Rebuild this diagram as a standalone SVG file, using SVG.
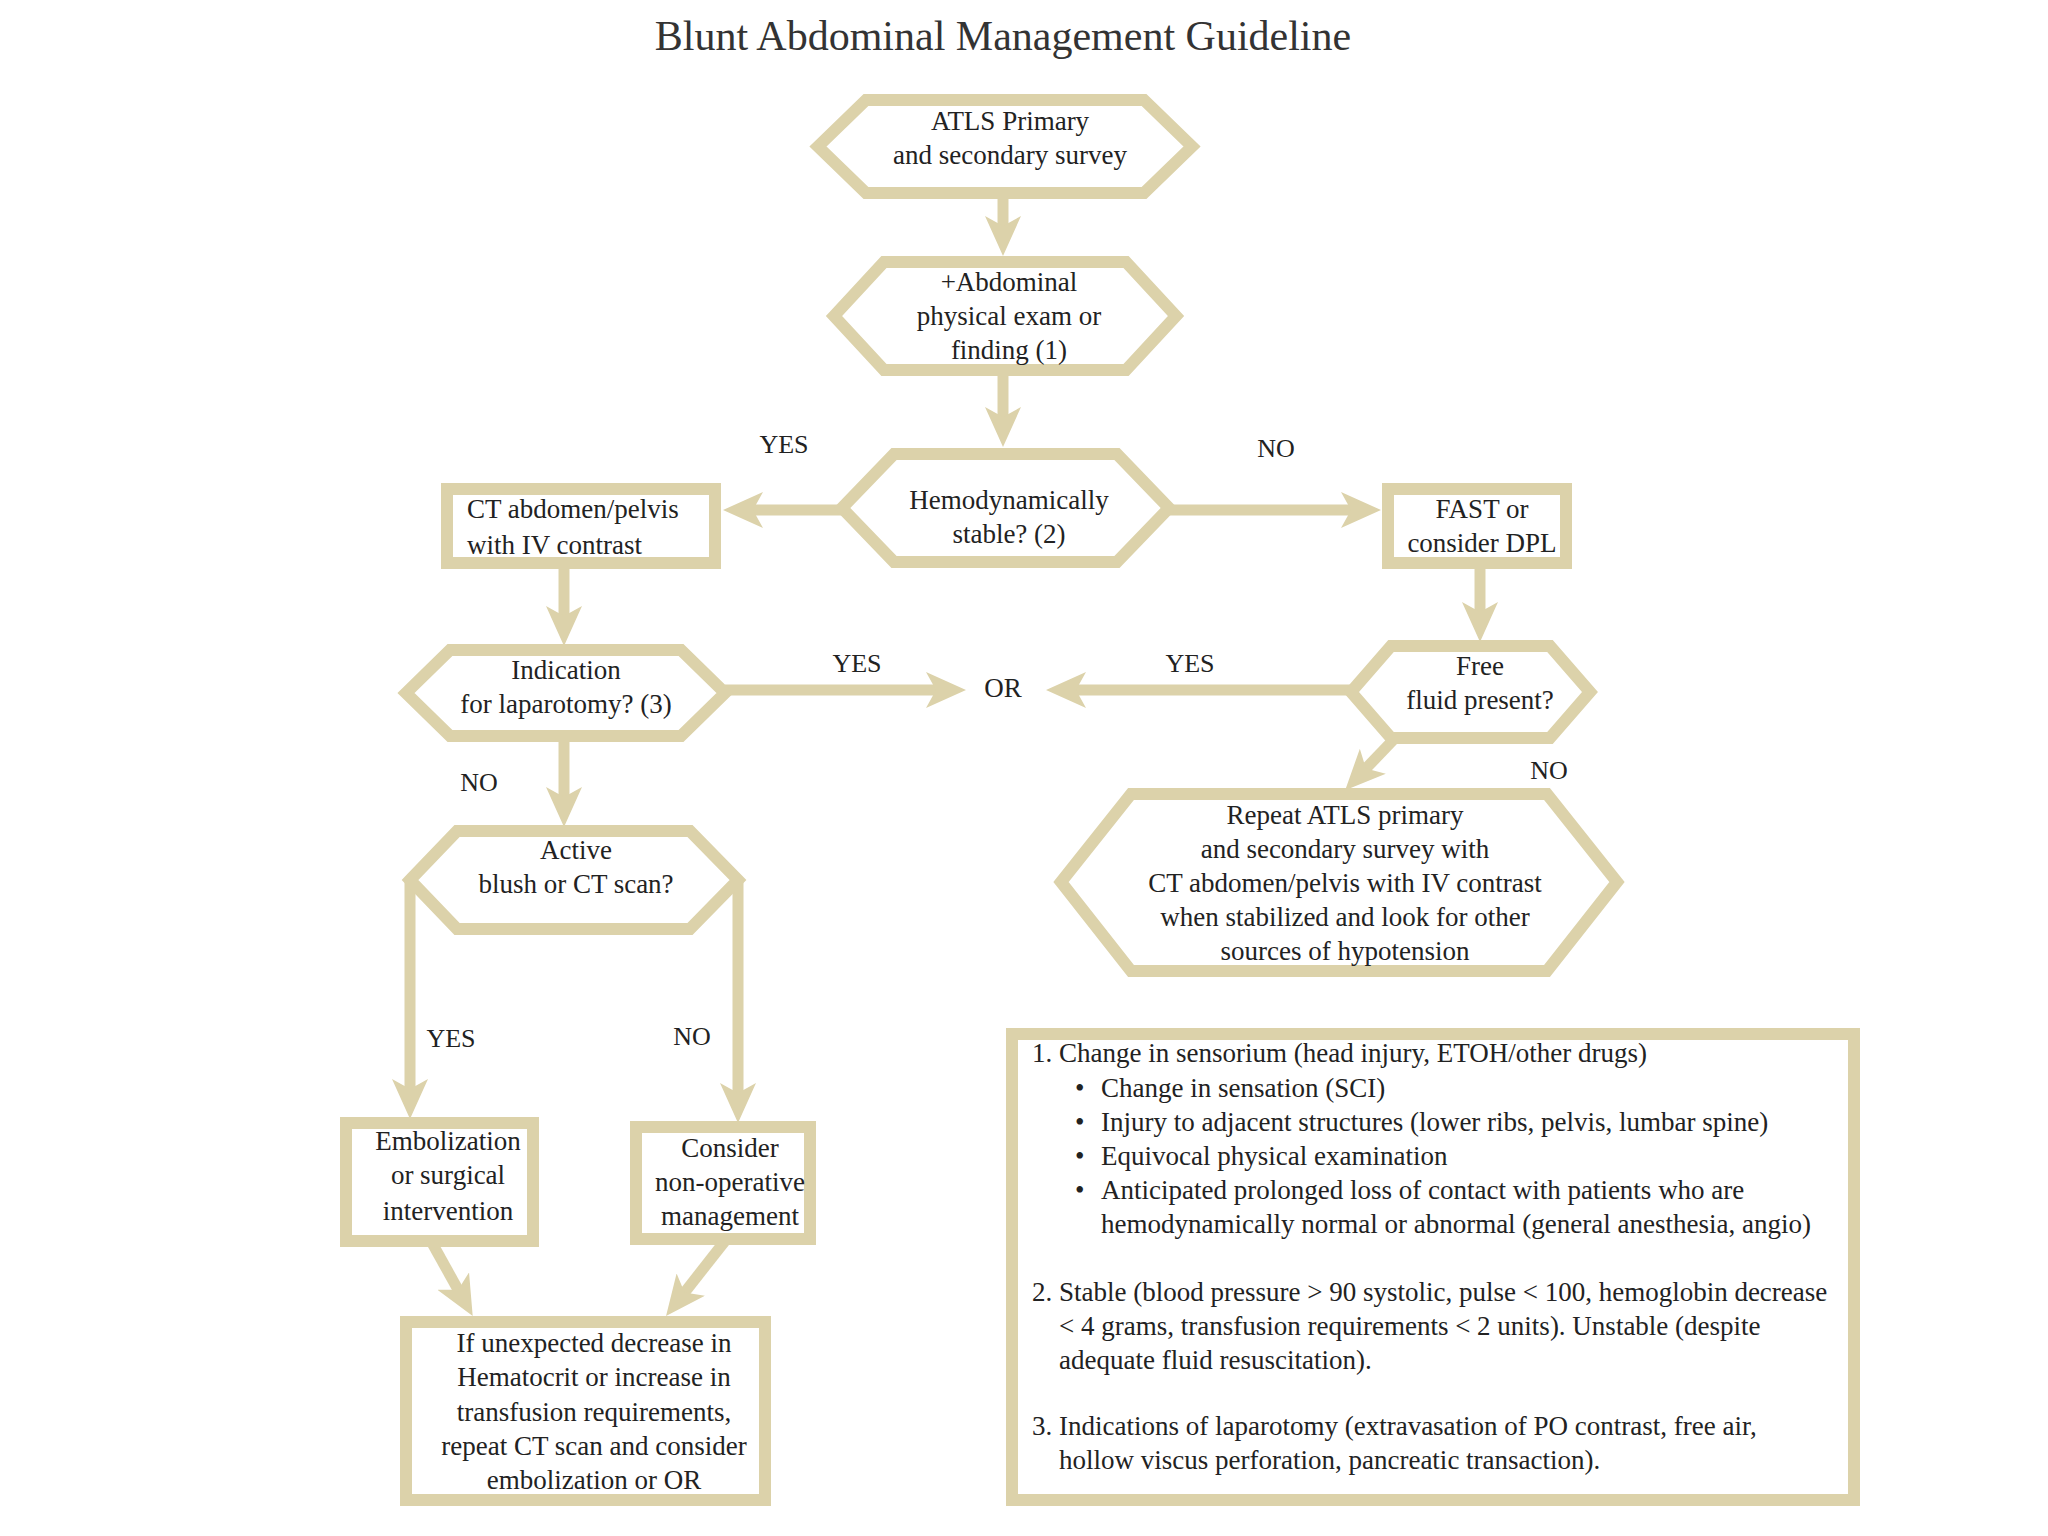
<svg xmlns="http://www.w3.org/2000/svg" width="2048" height="1536" viewBox="0 0 2048 1536">
<style>
.shape{fill:#ffffff;stroke:#DCD2AA;stroke-width:12;stroke-linejoin:miter}
.conn{fill:none;stroke:#DCD2AA;stroke-width:11}
.t{font-family:"Liberation Serif",serif;font-size:27px;fill:#222;text-anchor:middle}
.l{font-family:"Liberation Serif",serif;font-size:27px;fill:#222}
.lab{font-family:"Liberation Serif",serif;font-size:26px;fill:#222;text-anchor:middle}
.n{font-family:"Liberation Serif",serif;font-size:27px;fill:#222}
.title{font-family:"Liberation Serif",serif;font-size:42px;fill:#333;text-anchor:middle}
</style>
<defs>
<marker id="arr" viewBox="0 0 40 36" refX="20" refY="18" markerWidth="40" markerHeight="36" markerUnits="userSpaceOnUse" orient="auto">
<path d="M0,0 L40,18 L0,36 L10,18 Z" fill="#DCD2AA"/>
</marker>
</defs>
<rect width="2048" height="1536" fill="#ffffff"/>
<text class="title" x="1003" y="50">Blunt Abdominal Management Guideline</text>

<g id="connectors">
<line class="conn" x1="1003" y1="193" x2="1003" y2="236" marker-end="url(#arr)"/>
<line class="conn" x1="1003" y1="370" x2="1003" y2="427" marker-end="url(#arr)"/>
<line class="conn" x1="842" y1="510" x2="743" y2="510" marker-end="url(#arr)"/>
<line class="conn" x1="1169" y1="510" x2="1361" y2="510" marker-end="url(#arr)"/>
<line class="conn" x1="564" y1="563" x2="564" y2="626" marker-end="url(#arr)"/>
<line class="conn" x1="1480" y1="563" x2="1480" y2="622" marker-end="url(#arr)"/>
<line class="conn" x1="725" y1="690" x2="946" y2="690" marker-end="url(#arr)"/>
<line class="conn" x1="1351" y1="690" x2="1066" y2="690" marker-end="url(#arr)"/>
<line class="conn" x1="1398" y1="735" x2="1359" y2="775.7" marker-end="url(#arr)"/>
<line class="conn" x1="564" y1="736" x2="564" y2="807" marker-end="url(#arr)"/>
<line class="conn" x1="410" y1="880" x2="410" y2="1099" marker-end="url(#arr)"/>
<line class="conn" x1="738" y1="880" x2="738" y2="1103" marker-end="url(#arr)"/>
<line class="conn" x1="431" y1="1241" x2="463" y2="1298.6" marker-end="url(#arr)"/>
<line class="conn" x1="725" y1="1241" x2="678.4" y2="1300.3" marker-end="url(#arr)"/>
<text class="lab" x="784" y="453">YES</text>
<text class="lab" x="1276" y="457">NO</text>
<text class="lab" x="857" y="672">YES</text>
<text class="lab" x="1190" y="672">YES</text>
<text class="lab" x="1549" y="779">NO</text>
<text class="lab" x="479" y="791">NO</text>
<text class="lab" x="451" y="1047">YES</text>
<text class="lab" x="692" y="1045">NO</text>
</g>

<g id="atls">
<path class="shape" d="M818,146.5 L866,100 L1144,100 L1192,146.5 L1144,193 L866,193 Z"/>
<text class="t" x="1010" y="130">ATLS Primary</text>
<text class="t" x="1010" y="164">and secondary survey</text>
</g>

<g id="abdominal">
<path class="shape" d="M834,316 L884,262 L1126,262 L1176,316 L1126,370 L884,370 Z"/>
<text class="t" x="1009" y="291">+Abdominal</text>
<text class="t" x="1009" y="325">physical exam or</text>
<text class="t" x="1009" y="359">finding (1)</text>
</g>

<g id="hemo">
<path class="shape" d="M842,508 L894,454 L1117,454 L1169,508 L1117,562 L894,562 Z"/>
<text class="t" x="1009" y="509">Hemodynamically</text>
<text class="t" x="1009" y="543">stable? (2)</text>
</g>

<g id="ct">
<rect class="shape" x="447" y="489" width="268" height="74"/>
<text class="l" x="467" y="518">CT abdomen/pelvis</text>
<text class="l" x="467" y="554">with IV contrast</text>
</g>

<g id="fast">
<rect class="shape" x="1388" y="489" width="178" height="74"/>
<text class="t" x="1482" y="518">FAST or</text>
<text class="t" x="1482" y="552">consider DPL</text>
</g>

<g id="indication">
<path class="shape" d="M406,693 L450,650 L681,650 L725,693 L681,736 L450,736 Z"/>
<text class="t" x="566" y="679">Indication</text>
<text class="t" x="566" y="713">for laparotomy? (3)</text>
</g>

<g id="or">
<text class="t" x="1003" y="697">OR</text>
</g>

<g id="freefluid">
<path class="shape" d="M1351,692 L1391,646 L1550,646 L1590,692 L1550,738 L1391,738 Z"/>
<text class="t" x="1480" y="675">Free</text>
<text class="t" x="1480" y="709">fluid present?</text>
</g>

<g id="repeat">
<path class="shape" d="M1061,882 L1131,794 L1547,794 L1617,882 L1547,971 L1131,971 Z"/>
<text class="t" x="1345" y="824">Repeat ATLS primary</text>
<text class="t" x="1345" y="858">and secondary survey with</text>
<text class="t" x="1345" y="892">CT abdomen/pelvis with IV contrast</text>
<text class="t" x="1345" y="926">when stabilized and look for other</text>
<text class="t" x="1345" y="960">sources of hypotension</text>
</g>

<g id="active">
<path class="shape" d="M410,880 L457,831 L690,831 L738,880 L690,929 L457,929 Z"/>
<text class="t" x="576" y="859">Active</text>
<text class="t" x="576" y="893">blush or CT scan?</text>
</g>

<g id="embolization">
<rect class="shape" x="346" y="1123" width="187" height="118"/>
<text class="t" x="448" y="1150">Embolization</text>
<text class="t" x="448" y="1184">or surgical</text>
<text class="t" x="448" y="1220">intervention</text>
</g>

<g id="consider">
<rect class="shape" x="636" y="1127" width="174" height="112"/>
<text class="t" x="730" y="1157">Consider</text>
<text class="t" x="730" y="1191">non-operative</text>
<text class="t" x="730" y="1225">management</text>
</g>

<g id="unexpected">
<rect class="shape" x="406" y="1322" width="359" height="178"/>
<text class="t" x="594" y="1352">If unexpected decrease in</text>
<text class="t" x="594" y="1386">Hematocrit or increase in</text>
<text class="t" x="594" y="1421">transfusion requirements,</text>
<text class="t" x="594" y="1455">repeat CT scan and consider</text>
<text class="t" x="594" y="1489">embolization or OR</text>
</g>

<g id="notes">
<rect class="shape" x="1012" y="1034" width="842" height="466"/>
<text class="n" x="1032" y="1062">1. Change in sensorium (head injury, ETOH/other drugs)</text>
<text class="n" x="1075" y="1097">•</text>
<text class="n" x="1101" y="1097">Change in sensation (SCI)</text>
<text class="n" x="1075" y="1131">•</text>
<text class="n" x="1101" y="1131">Injury to adjacent structures (lower ribs, pelvis, lumbar spine)</text>
<text class="n" x="1075" y="1165">•</text>
<text class="n" x="1101" y="1165">Equivocal physical examination</text>
<text class="n" x="1075" y="1199">•</text>
<text class="n" x="1101" y="1199">Anticipated prolonged loss of contact with patients who are</text>
<text class="n" x="1101" y="1233">hemodynamically normal or abnormal (general anesthesia, angio)</text>
<text class="n" x="1032" y="1301">2. Stable (blood pressure &gt; 90 systolic, pulse &lt; 100, hemoglobin decrease</text>
<text class="n" x="1059" y="1335">&lt; 4 grams, transfusion requirements &lt; 2 units). Unstable (despite</text>
<text class="n" x="1059" y="1369">adequate fluid resuscitation).</text>
<text class="n" x="1032" y="1435">3. Indications of laparotomy (extravasation of PO contrast, free air,</text>
<text class="n" x="1059" y="1469">hollow viscus perforation, pancreatic transaction).</text>
</g>
</svg>
